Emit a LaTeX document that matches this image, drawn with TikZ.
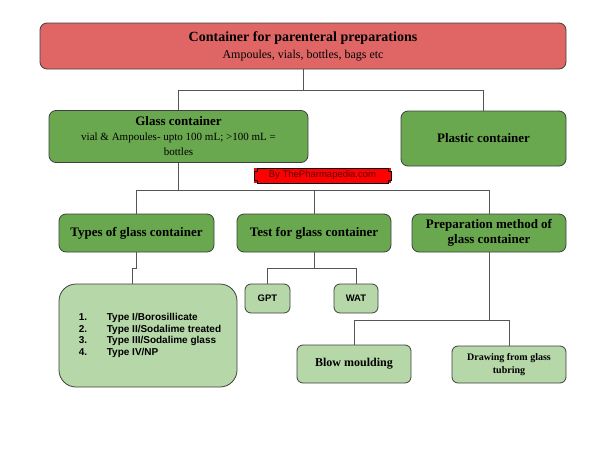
\documentclass[tikz,border=0pt]{standalone}
\usepackage{fontspec}
\setmainfont{Liberation Serif}
\setsansfont{Liberation Sans}
\usetikzlibrary{calc}
\definecolor{topfill}{HTML}{E06666}
\definecolor{midfill}{HTML}{6AA84F}
\definecolor{lowfill}{HTML}{B6D7A8}
\definecolor{boxline}{HTML}{3F3F3F}
\definecolor{wireline}{HTML}{555555}
\definecolor{markfill}{HTML}{FF0000}
\definecolor{marktext}{HTML}{5A0000}
\newcommand{\subtext}{\mdseries\fontsize{11}{13.5}\selectfont}

\begin{document}
\begin{tikzpicture}[
  x=1pt, y=-1pt,
  head/.style = {draw=boxline, fill=topfill, rounded corners=7pt, line width=0.8pt,
                 minimum width=526pt, minimum height=46pt, align=center, inner sep=2pt},
  mid/.style  = {draw=boxline, fill=midfill, rounded corners=7pt, line width=0.8pt,
                 minimum height=38pt, align=center, inner sep=2pt,
                 font=\bfseries\fontsize{13}{15}\selectfont},
  low/.style  = {draw=boxline, fill=lowfill, rounded corners=6pt, line width=0.8pt,
                 minimum height=38pt, align=center, inner sep=2pt,
                 font=\bfseries\fontsize{12}{14}\selectfont},
  ln/.style   = {draw=wireline, line width=0.8pt},
]
\useasboundingbox (0,0) rectangle (600,450);

% --- the root --------------------------------------------------------------------------------------
\node[head, font=\fontsize{14}{16}\selectfont] (root) at (303,46)
  {\textbf{Container for parenteral preparations}\\[1pt]
   \mdseries\fontsize{12}{14}\selectfont Ampoules, vials, bottles, bags etc};

% --- glass and plastic -----------------------------------------------------------------------------
\node[mid, minimum width=259pt, minimum height=52pt] (glass) at (178.5,136.5)
  {Glass container\\
   \subtext vial \& Ampoules- upto 100 mL; >100 mL =\\
   \subtext bottles};
\node[mid, minimum width=165pt, minimum height=55pt] (plastic) at (483.5,138.5) {Plastic container};

% --- the watermark ---------------------------------------------------------------------------------
\node[fill=markfill, minimum width=137pt, minimum height=15pt, inner sep=0pt,
      text=marktext, font=\sffamily\fontsize{9.5}{11}\selectfont] (mark) at (322.5,175.5)
  {By ThePharmapedia.com};
\draw[black, line width=0.6pt]
  ($(mark.north west)+(3,0)$) -- ($(mark.north east)+(-3,0)$) -- ++(0,3) -- ++(3,0)
  -- ($(mark.south east)+(0,-3)$) -- ++(-3,0) -- ++(0,3) -- ($(mark.south west)+(3,0)$)
  -- ++(0,-3) -- ++(-3,0) -- ($(mark.north west)+(0,3)$) -- ++(3,0) -- cycle;

% --- the three glass branches ----------------------------------------------------------------------
\node[mid, minimum width=155pt] (types) at (136.5,233) {Types of glass container};
\node[mid, minimum width=154pt] (test)  at (314,233)   {Test for glass container};
\node[mid, minimum width=154pt] (prep)  at (489,233)   {Preparation method of\\glass container};

% --- the leaves ------------------------------------------------------------------------------------
\node[low, rounded corners=17pt, minimum width=178pt, minimum height=103pt,
      font=\sffamily\bfseries\fontsize{10}{11.7}\selectfont, align=left] (kinds) at (148,335.5)
  {\hspace*{4pt}\makebox[28pt][l]{1.}Type I/Borosillicate\\
   \hspace*{4pt}\makebox[28pt][l]{2.}Type II/Sodalime treated\\
   \hspace*{4pt}\makebox[28pt][l]{3.}Type III/Sodalime glass\\
   \hspace*{4pt}\makebox[28pt][l]{4.}Type IV/NP};
\node[low, minimum width=45pt, minimum height=29pt, font=\sffamily\bfseries\fontsize{9.5}{11}\selectfont]
  (gpt) at (267.5,298.5) {GPT};
\node[low, minimum width=44pt, minimum height=29pt, font=\sffamily\bfseries\fontsize{9.5}{11}\selectfont]
  (wat) at (356,298.5) {WAT};
\node[low, minimum width=114pt] (blow) at (354,364) {Blow moulding};
\node[low, minimum width=114pt, minimum height=37pt, font=\bfseries\fontsize{10}{12.5}\selectfont]
  (tube) at (509,364.5) {Drawing from glass\\tubring};

% --- connectors ------------------------------------------------------------------------------------
\draw[ln] (root.south) -- ++(0,21) -| (glass.north);
\draw[ln] (root.south) -- ++(0,21) -| (plastic.north);

\draw[ln] (glass.south) -- ++(0,27) -| (types.north);
\draw[ln] (glass.south) -- ++(0,27) -| (test.north);
\draw[ln] (glass.south) -- ++(0,27) -| (prep.north);

\draw[ln] (types.south) -- ++(0,16) -| ([xshift=-16pt]kinds.north);

\draw[ln] (test.south) -- ++(0,16) -| (gpt.north);
\draw[ln] (test.south) -- ++(0,16) -| (wat.north);

\draw[ln] (prep.south) -- ++(0,68) -| (blow.north);
\draw[ln] (prep.south) -- ++(0,68) -| (tube.north);

\end{tikzpicture}
\end{document}
